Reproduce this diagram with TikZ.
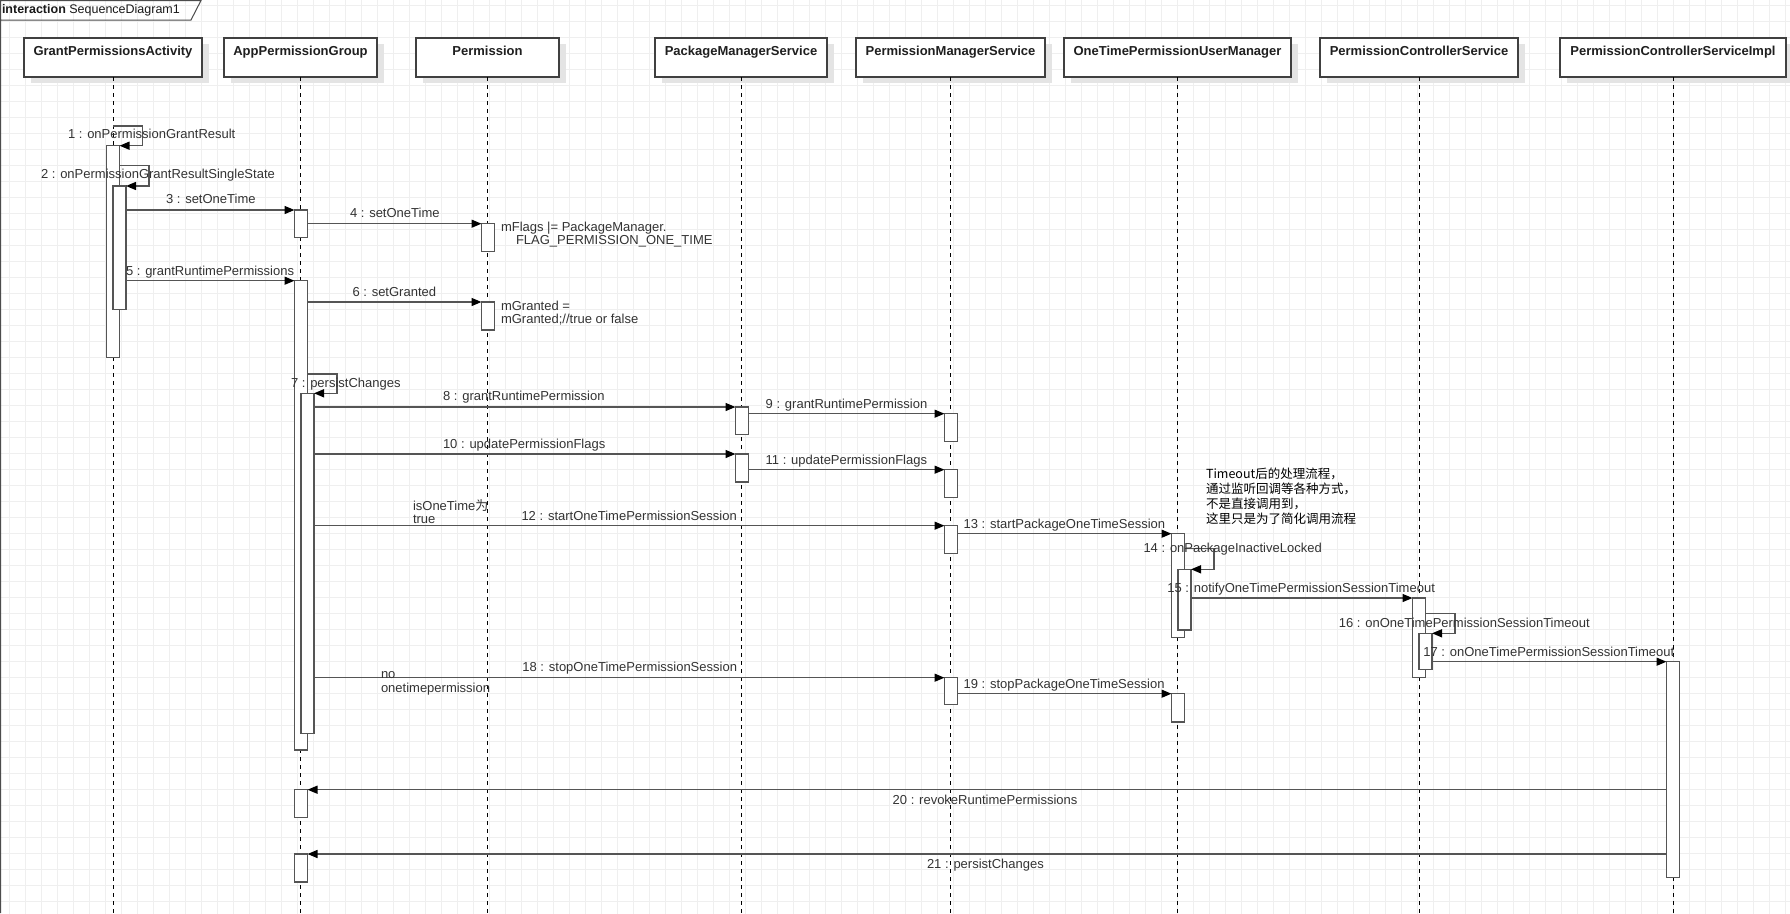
\documentclass[tikz,border=0pt]{standalone}
\usepackage{fontspec}
\setmainfont{Liberation Sans}
\newfontfamily\cjk{Noto Sans CJK SC}
\usetikzlibrary{arrows.meta,shadows}
\definecolor{linec}{HTML}{555555}
\definecolor{txtc}{HTML}{333333}
\definecolor{gridc}{HTML}{EFEFEF}
\definecolor{shadc}{HTML}{E4E4E4}
\begin{document}
\begin{tikzpicture}[x=1pt,y=-1pt,
  every node/.style={inner sep=0pt, outer sep=0pt},
  lbl/.style={anchor=base west, text=txtc, align=left, font=\fontsize{13}{13.4}\selectfont},
  hdr/.style={draw=black!75, line width=1.4pt, fill=white, anchor=north west,
    text height=17.2pt, text depth=21.8pt, font=\fontsize{13}{15}\selectfont\bfseries, text=black!88,
    drop shadow={shadow xshift=7pt, shadow yshift=-6pt, fill=shadc, opacity=1}},
  act/.style={draw=linec, line width=1.4pt, fill=white, anchor=north west, minimum width=13pt},
  life/.style={black, line width=0.9pt, dash pattern=on 4pt off 4pt},
  msg/.style={draw=linec, line width=1.4pt, -{Triangle[length=10pt,width=8pt,color=black]}},
]
\useasboundingbox[fill=white] (0,0) rectangle (1790,913);
% background grid
\begin{scope}
\clip (0,0) rectangle (1790,913);
\draw[gridc, line width=0.8pt, shift={(9.3,5.3)}] (-16,930) grid[step=16pt] (1800,-16);
\end{scope}
% frame
\draw[black!70, line width=1pt] (0.5,913) -- (0.5,0.5) -- (201,0.5) -- (191,20) -- (0.5,20);
\node[anchor=base west, text=black!90, font=\fontsize{12.5}{14}\selectfont] (frame) at (2,13) {\textbf{interaction} SequenceDiagram1};
% headers
\node[hdr, minimum width=178pt] (p1) at (24,38) {GrantPermissionsActivity};
\node[hdr, minimum width=153pt] (p2) at (224,38) {AppPermissionGroup};
\node[hdr, minimum width=143pt] (p3) at (416,38) {Permission};
\node[hdr, minimum width=172pt] (p4) at (655,38) {PackageManagerService};
\node[hdr, minimum width=189pt] (p5) at (856,38) {PermissionManagerService};
\node[hdr, minimum width=227pt] (p6) at (1064,38) {OneTimePermissionUserManager};
\node[hdr, minimum width=198pt] (p7) at (1320,38) {PermissionControllerService};
\node[hdr, minimum width=226pt] (p8) at (1560,38) {PermissionControllerServiceImpl};
% lifelines
\foreach \i in {1,...,8}{
  \coordinate (z\i) at (p\i.south |- 0,913);
  \draw[life] (p\i.south) -- (z\i);
}
% activations
\node[act, minimum height=212pt] (a1) at (106.5,145.7) {};
\node[act, minimum height=123.7pt] (a2) at (113,186) {};
\node[act, minimum height=27.7pt] (b1) at (294.5,210) {};
\node[act, minimum height=469.3pt] (b2) at (294.5,280.7) {};
\node[act, minimum height=340.4pt] (b3) at (301,393.3) {};
\node[act, minimum height=28pt] (b4) at (294.5,789.7) {};
\node[act, minimum height=28pt] (b5) at (294.5,854) {};
\node[act, minimum height=28pt] (c1) at (481.5,223.7) {};
\node[act, minimum height=28pt] (c2) at (481.5,302) {};
\node[act, minimum height=27.7pt] (d1) at (735.5,407) {};
\node[act, minimum height=28pt] (d2) at (735.5,454) {};
\node[act, minimum height=28pt] (e1) at (944.5,413.7) {};
\node[act, minimum height=28pt] (e2) at (944.5,469.7) {};
\node[act, minimum height=28pt] (e3) at (944.5,525.7) {};
\node[act, minimum height=26.6pt] (e4) at (944.5,677.7) {};
\node[act, minimum height=103.6pt] (f1) at (1171.5,533.7) {};
\node[act, minimum height=60.7pt] (f2) at (1178,569.3) {};
\node[act, minimum height=28.3pt] (f3) at (1171.5,693.7) {};
\node[act, minimum height=79.7pt] (g1) at (1412.5,598) {};
\node[act, minimum height=36.4pt] (g2) at (1419,633.3) {};
\node[act, minimum height=216pt] (k1) at (1666.5,661.7) {};
% messages
\draw[msg] (p1.south |- 0,126) -- ++(29.5,0) |- (a1.north east);
\draw[msg] (a1.east |- 0,165.7) -- ++(29.5,0) |- (a2.north east);
\draw[msg] (a2.east |- b1.north) -- (b1.north west);
\draw[msg] (b1.east |- c1.north) -- (c1.north west);
\draw[msg] (a2.east |- b2.north) -- (b2.north west);
\draw[msg] (b2.east |- c2.north) -- (c2.north west);
\draw[msg] (b2.east |- 0,374) -- ++(29.5,0) |- (b3.north east);
\draw[msg] (b3.east |- d1.north) -- (d1.north west);
\draw[msg] (d1.east |- e1.north) -- (e1.north west);
\draw[msg] (b3.east |- d2.north) -- (d2.north west);
\draw[msg] (d2.east |- e2.north) -- (e2.north west);
\draw[msg] (b3.east |- e3.north) -- (e3.north west);
\draw[msg] (e3.east |- f1.north) -- (f1.north west);
\draw[msg] (f1.east |- 0,548.7) -- ++(29.5,0) |- (f2.north east);
\draw[msg] (f2.east |- g1.north) -- (g1.north west);
\draw[msg] (g1.east |- 0,613.7) -- ++(29.5,0) |- (g2.north east);
\draw[msg] (g2.east |- k1.north) -- (k1.north west);
\draw[msg] (b3.east |- e4.north) -- (e4.north west);
\draw[msg] (e4.east |- f3.north) -- (f3.north west);
\draw[msg] (k1.west |- b4.north) -- (b4.north east);
\draw[msg] (k1.west |- b5.north) -- (b5.north east);
% labels
\node[lbl] (l1) at (68,138.5) {1 : onPermissionGrantResult};
\node[lbl] (l2) at (41,178.5) {2 : onPermissionGrantResultSingleState};
\node[lbl] (l3) at (166,203.5) {3 : setOneTime};
\node[lbl] (l4) at (350,217.5) {4 : setOneTime};
\node[lbl] (n1) at (501,244.5) {mFlags |= PackageManager.\\\hspace*{15pt}FLAG\_PERMISSION\_ONE\_TIME};
\node[lbl] (l5) at (126,275) {5 : grantRuntimePermissions};
\node[lbl] (l6) at (352.5,296) {6 : setGranted};
\node[lbl] (n2) at (501,323.8) {mGranted =\\mGranted;//true or false};
\node[lbl] (l7) at (291,387) {7 : persistChanges};
\node[lbl] (l8) at (443,400.5) {8 : grantRuntimePermission};
\node[lbl] (l9) at (765.7,408) {9 : grantRuntimePermission};
\node[lbl] (l10) at (443,448) {10 : updatePermissionFlags};
\node[lbl] (l11) at (765.7,464) {11 : updatePermissionFlags};
\node[lbl] (n3) at (413,523.8) {isOneTime{\cjk 为}\\true};
\node[lbl] (l12) at (521.5,520) {12 : startOneTimePermissionSession};
\node[lbl] (l13) at (963.6,528) {13 : startPackageOneTimeSession};
\node[lbl, text=black, font=\cjk\fontsize{12.5}{14.8}\selectfont] (n4) at (1206,523) {Timeout后的处理流程，\\通过监听回调等各种方式，\\不是直接调用到，\\这里只是为了简化调用流程};
\node[lbl] (l14) at (1143.5,552) {14 : onPackageInactiveLocked};
\node[lbl] (l15) at (1167.3,592) {15 : notifyOneTimePermissionSessionTimeout};
\node[lbl] (l16) at (1338.8,627) {16 : onOneTimePermissionSessionTimeout};
\node[lbl] (l17) at (1423.3,656) {17 : onOneTimePermissionSessionTimeout};
\node[lbl] (l18) at (522.4,671.5) {18 : stopOneTimePermissionSession};
\node[lbl] (n5) at (381,692.2) {no\\onetimepermission};
\node[lbl] (l19) at (963.6,688) {19 : stopPackageOneTimeSession};
\node[lbl] (l20) at (892.7,804.5) {20 : revokeRuntimePermissions};
\node[lbl] (l21) at (927,868.5) {21 : persistChanges};
\end{tikzpicture}
\end{document}
